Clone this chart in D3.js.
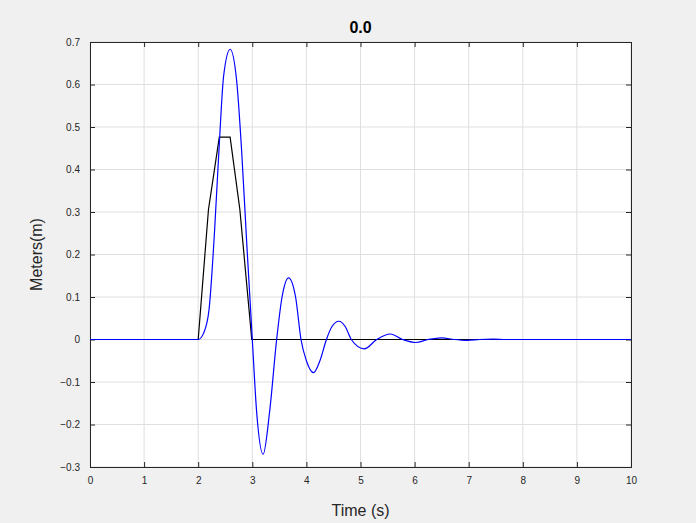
<!DOCTYPE html><html><head><meta charset="utf-8">
<script src="https://cdn.jsdelivr.net/npm/d3@7"></script>
<style>body{margin:0;background:#f0f0f0}svg{display:block;font-family:"Liberation Sans",Arial,sans-serif}</style></head><body>
<svg id="c" width="696" height="523"></svg>
<script>
const xTicks=[0,1,2,3,4,5,6,7,8,9,10];
const yTicks=[-0.3,-0.2,-0.1,0,0.1,0.2,0.3,0.4,0.5,0.6,0.7];
const blackX=[0,2,2.19,2.39,2.59,2.77,2.99,10];
const blackY=[0,0,0.306,0.476,0.476,0.306,0,0];
const blueX=[0,2,2.1,2.2,2.3,2.39,2.47,2.59,2.71,2.8,2.9,3.0,3.08,3.2,3.32,3.45,3.55,3.67,3.8,3.9,4.0,4.13,4.25,4.37,4.47,4.6,4.72,4.83,5.07,5.3,5.55,5.78,6.02,6.25,6.5,6.73,6.97,7.2,7.45,7.7,10];
const blueY=[0,0,0.015,0.07,0.25,0.46,0.62,0.683,0.61,0.45,0.22,0,-0.17,-0.27,-0.17,0,0.1,0.145,0.1,0,-0.05,-0.078,-0.05,0,0.03,0.043,0.03,0,-0.022,0,0.013,0,-0.007,0,0.004,0,-0.002,0,0.001,0,0];
const svg=d3.select("#c");
const L=90,R=631,T=42,B=467;
const x=d3.scaleLinear().domain([0,10]).range([L,R]);
const y=d3.scaleLinear().domain([-0.3,0.7]).range([B,T]);
svg.append("rect").attr("x",L).attr("y",T).attr("width",R-L).attr("height",B-T).attr("fill","#fff");
const g=svg.append("g");
xTicks.forEach(t=>g.append("line").attr("x1",x(t)).attr("x2",x(t)).attr("y1",T).attr("y2",B).attr("stroke","#dfdfdf"));
yTicks.forEach(t=>g.append("line").attr("y1",y(t)).attr("y2",y(t)).attr("x1",L).attr("x2",R).attr("stroke","#dfdfdf"));
const fmt=d=>d3.format("")(Math.round(d*10)/10);
const ax=(a,tr)=>svg.append("g").attr("transform",tr).attr("font-size",15).attr("font-family","Liberation Sans, Arial, sans-serif").call(a).call(s=>{s.select(".domain").attr("stroke","#262626");s.selectAll(".tick line").attr("stroke","#262626");s.selectAll("text").attr("fill","#262626");});
ax(d3.axisBottom(x).tickValues(xTicks).tickSize(-5).tickPadding(10).tickFormat(fmt),`translate(0,${B})`);
ax(d3.axisTop(x).tickValues(xTicks).tickSize(-5).tickFormat(""),`translate(0,${T})`);
ax(d3.axisLeft(y).tickValues(yTicks).tickSize(-5).tickPadding(10).tickFormat(fmt),`translate(${L},0)`);
ax(d3.axisRight(y).tickValues(yTicks).tickSize(-5).tickFormat(""),`translate(${R},0)`);
const line=d3.line().x(d=>x(d[0])).y(d=>y(d[1]));
svg.append("path").datum(blackX.map((v,i)=>[v,blackY[i]])).attr("d",line).attr("fill","none").attr("stroke","#000").attr("stroke-width",1.2);
svg.append("path").datum(blueX.map((v,i)=>[v,blueY[i]])).attr("d",line.curve(d3.curveMonotoneX)).attr("fill","none").attr("stroke","#0000ff").attr("stroke-width",1.2);
svg.append("text").attr("x",(L+R)/2).attr("y",33).attr("text-anchor","middle").attr("font-weight","bold").attr("font-size","16px").attr("fill","#000").text("0.0");
svg.append("text").attr("x",(L+R)/2).attr("y",516).attr("text-anchor","middle").attr("font-size","16px").attr("fill","#262626").text("Time (s)");
svg.append("text").attr("transform",`translate(42,${(T+B)/2}) rotate(-90)`).attr("text-anchor","middle").attr("font-size","16px").attr("fill","#262626").text("Meters(m)");
</script></body></html>
